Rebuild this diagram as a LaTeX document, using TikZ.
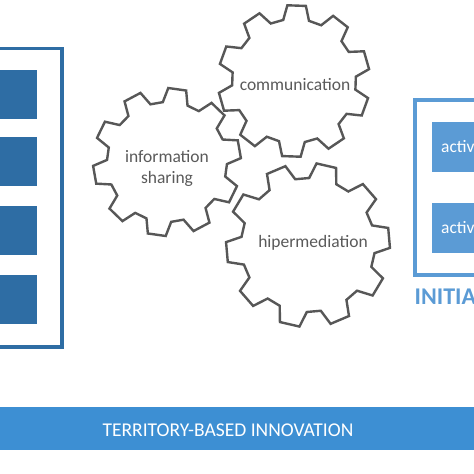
\documentclass[tikz,border=0pt]{standalone}
\usepackage{fontspec}
\setmainfont{Carlito}
\usetikzlibrary{positioning}

\definecolor{frameblue}{HTML}{2E6DA4}
\definecolor{lightblue}{HTML}{5B9BD5}
\definecolor{barblue}{HTML}{3D8FD3}
\definecolor{geargray}{HTML}{5A5A5A}
\definecolor{gearline}{HTML}{575757}

\tikzset{gear/.style={line width=2.4pt, draw=gearline, fill=white, line join=miter}}
\tikzset{geartext/.style={text=geargray, font=\fontsize{17.5}{21}\selectfont, align=center, inner sep=0pt}}
\tikzset{acttext/.style={text=white, font=\fontsize{17.5}{21}\selectfont, anchor=west, inner sep=0pt}}

\begin{document}
\begin{tikzpicture}[x=1pt,y=-1pt]
\useasboundingbox (0,0) rectangle (474,474);
\clip (0,0) rectangle (474,474);
% left frame
\draw[line width=3.5pt, frameblue] (-20,48.5) rectangle (62,347);
\foreach \y in {70,137,206,275} {
\fill[frameblue] (-10,\y) rectangle (37,\y+49);
}
% right frame
\draw[line width=4pt, lightblue] (414.5,99.5) rectangle (500,275);
\fill[lightblue] (432,122) rectangle (500,172);
\fill[lightblue] (432,203) rectangle (500,253);
\node[acttext] (act1) at (441,147) {activ};
\node[acttext] (act2) at (441,228) {activ};
\node[anchor=west, inner sep=0pt, text=lightblue, font=\fontsize{24}{28}\bfseries] (initia) at (414.5,297) {INITIA};
% gears
\begin{scope}[shift={(167,162)}, rotate=10]
\draw[gear] (-7:74) \foreach \a in {0,36,...,324} { -- (\a-7:74) -- (\a+7:74) -- (\a+12:60) -- (\a+24:60) } -- cycle;
\end{scope}
\node[geartext] (info) at (167,168) {information\\sharing};
\begin{scope}[shift={(294,81)}, rotate=-20]
\draw[gear] (-7:76) \foreach \a in {0,36,...,324} { -- (\a-7:76) -- (\a+7:76) -- (\a+12:62) -- (\a+24:62) } -- cycle;
\end{scope}
\node[geartext] (comm) at (295,85) {communication};
\begin{scope}[shift={(308,245)}, rotate=5]
\draw[gear] (-7:82) \foreach \a in {0,36,...,324} { -- (\a-7:82) -- (\a+7:82) -- (\a+12:67) -- (\a+24:67) } -- cycle;
\end{scope}
\node[geartext] (hiper) at (313,243) {hipermediation};
% bottom bar
\fill[barblue] (-5,407) rectangle (480,450);
\node[text=white, font=\fontsize{19.5}{23}\selectfont, inner sep=0pt] (tbi) at (228,430) {TERRITORY-BASED INNOVATION};
\end{tikzpicture}
\end{document}
